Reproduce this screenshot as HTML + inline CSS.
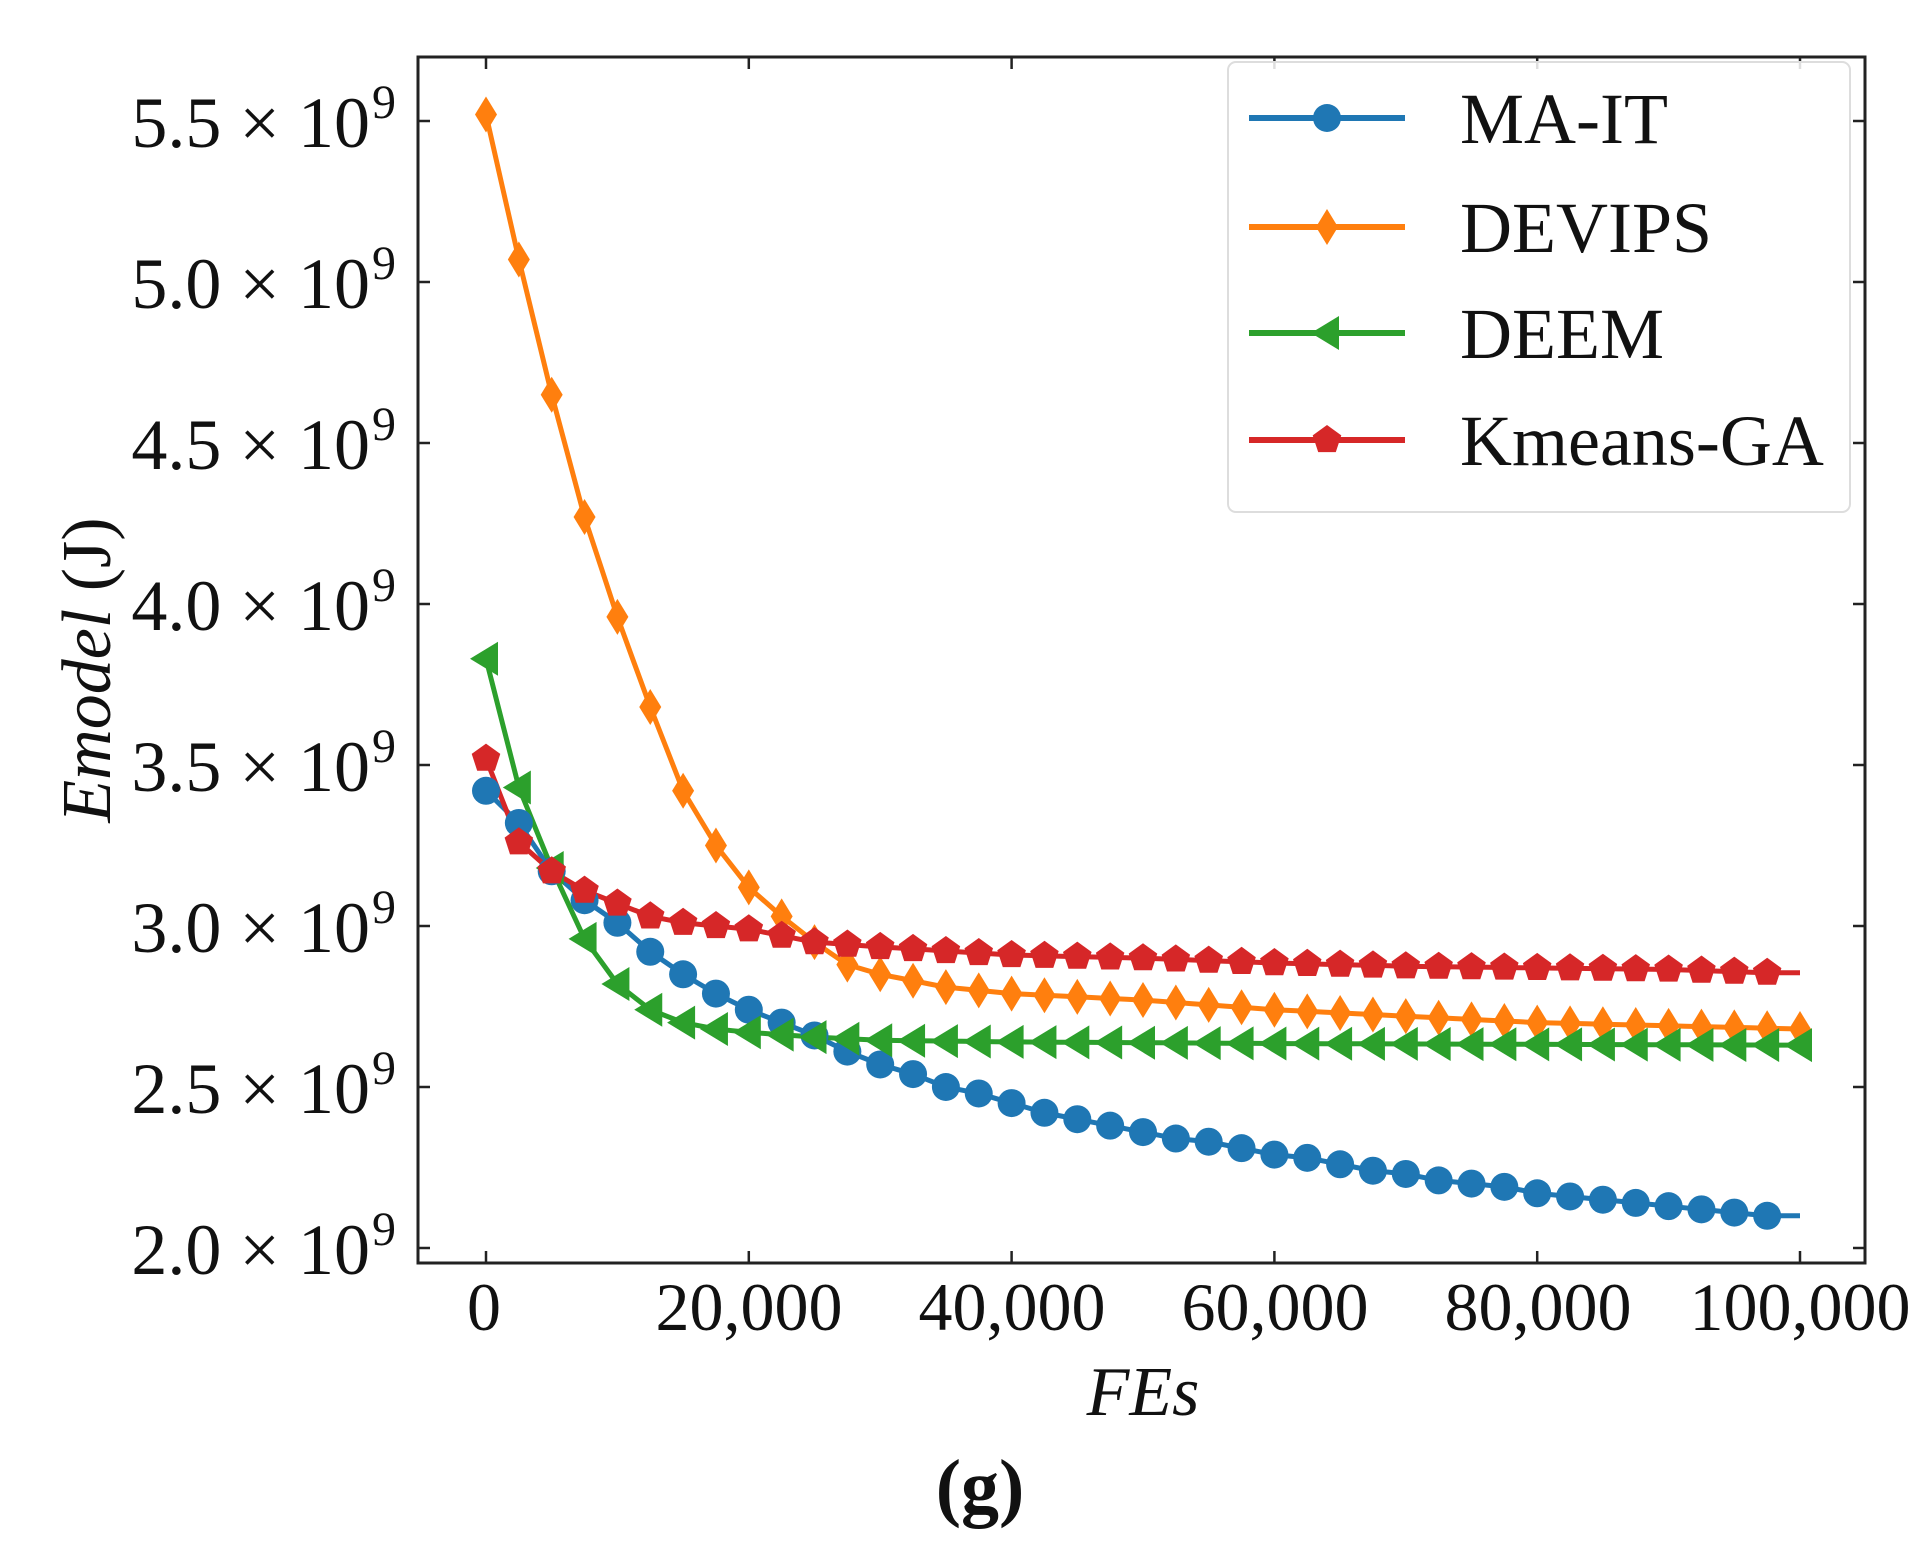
<!DOCTYPE html>
<html><head><meta charset="utf-8"><style>
html,body{margin:0;padding:0;background:#fff;}
svg{display:block;}
text{font-family:"Liberation Serif",serif;fill:#111;}
</style></head><body>
<svg id="s" width="1928" height="1557" viewBox="0 0 1928 1557" xmlns="http://www.w3.org/2000/svg">
<rect x="0" y="0" width="1928" height="1557" fill="#fff"/>
<g id="plot"></g>
<rect x="418" y="57" width="1447" height="1206" fill="none" stroke="#222" stroke-width="3"/>
<g id="ticks" stroke="#222" stroke-width="2.5"></g>
<g id="ylabels" font-size="72"></g>
<g font-size="68" text-anchor="middle">
<text x="484" y="1330">0</text>
<text x="749" y="1330">20,000</text>
<text x="1012" y="1330">40,000</text>
<text x="1275" y="1330">60,000</text>
<text x="1538" y="1330">80,000</text>
<text x="1800" y="1330">100,000</text>
</g>
<text x="1143" y="1415" font-size="70" font-style="italic" text-anchor="middle">FEs</text>
<text x="980" y="1512" font-size="76" font-weight="bold" text-anchor="middle">(g)</text>
<text transform="translate(110,670) rotate(-90)" font-size="70" text-anchor="middle"><tspan font-style="italic">Emodel</tspan> (J)</text>
<rect x="1228" y="62" width="622" height="450" rx="8" fill="#fff" fill-opacity="0.85" stroke="#ddd" stroke-width="2"/>
<g id="legend"></g>
<g font-size="72">
<text x="1460" y="143">MA-IT</text>
<text x="1460" y="252">DEVIPS</text>
<text x="1460" y="358">DEEM</text>
<text x="1460" y="465">Kmeans-GA</text>
</g>
</svg>
<script>
var NS="http://www.w3.org/2000/svg";
function X(f){return 486+f*0.01314;}
function Y(v){return 926-(v-3.0)*322;}
function interp(keys,f){for(var i=0;i<keys.length-1;i++){if(f>=keys[i][0]&&f<=keys[i+1][0]){var t=(f-keys[i][0])/(keys[i+1][0]-keys[i][0]);return keys[i][1]+t*(keys[i+1][1]-keys[i][1]);}}return keys[keys.length-1][1];}
function K(a){return a.map(function(p){return [p[0]*1000,p[1]];});}
var S=[
{c:"#1f77b4",m:"o",last:97500,k:K([[0,3.42],[2.5,3.32],[5,3.17],[7.5,3.08],[10,3.01],[12.5,2.92],[15,2.85],[17.5,2.79],[20,2.74],[22.5,2.70],[25,2.66],[27.5,2.61],[30,2.57],[32.5,2.54],[35,2.50],[37.5,2.48],[40,2.45],[42.5,2.42],[45,2.40],[47.5,2.38],[50,2.36],[52.5,2.34],[55,2.33],[57.5,2.31],[60,2.29],[62.5,2.28],[65,2.26],[67.5,2.24],[70,2.23],[72.5,2.21],[75,2.20],[77.5,2.19],[80,2.17],[82.5,2.16],[85,2.15],[87.5,2.14],[90,2.13],[92.5,2.12],[95,2.11],[97.5,2.10],[100,2.10]])},
{c:"#ff7f0e",m:"d",last:100000,k:K([[0,5.52],[2.5,5.07],[5,4.65],[7.5,4.27],[10,3.96],[12.5,3.68],[15,3.42],[17.5,3.25],[20,3.12],[22.5,3.03],[25,2.95],[27.5,2.88],[30,2.85],[32.5,2.83],[35,2.81],[40,2.79],[50,2.77],[60,2.74],[70,2.72],[80,2.70],[90,2.69],[100,2.68]])},
{c:"#2ca02c",m:"<",last:100000,k:K([[0,3.83],[2.5,3.43],[5,3.18],[7.5,2.96],[10,2.82],[12.5,2.74],[15,2.70],[17.5,2.68],[20,2.67],[25,2.655],[30,2.645],[40,2.64],[60,2.635],[100,2.63]])},
{c:"#d62728",m:"p",last:97500,k:K([[0,3.52],[2.5,3.26],[5,3.17],[7.5,3.11],[10,3.07],[12.5,3.03],[15,3.01],[17.5,3.0],[20,2.99],[22.5,2.97],[25,2.95],[30,2.935],[40,2.91],[50,2.90],[60,2.885],[70,2.875],[80,2.87],[90,2.865],[97.5,2.855],[100,2.855]])}
];
function el(n,a,p){var e=document.createElementNS(NS,n);for(var k in a)e.setAttribute(k,a[k]);p.appendChild(e);return e;}
function marker(m,x,y,c,p){
 if(m=="o")el("circle",{cx:x,cy:y,r:14,fill:c},p);
 else if(m=="d")el("polygon",{points:(x)+","+(y-18)+" "+(x+11)+","+y+" "+x+","+(y+18)+" "+(x-11)+","+y,fill:c},p);
 else if(m=="<")el("polygon",{points:(x-16)+","+y+" "+(x+12)+","+(y-17)+" "+(x+12)+","+(y+17),fill:c},p);
 else {var pts=[];for(var i=0;i<5;i++){var a=-Math.PI/2+i*2*Math.PI/5;pts.push((x+15*Math.cos(a)).toFixed(1)+","+(y+15*Math.sin(a)).toFixed(1));}el("polygon",{points:pts.join(" "),fill:c},p);}
}
var g=document.getElementById("plot");
S.forEach(function(s){
 var d="";for(var f=0;f<=100000;f+=1250){d+=(f?"L":"M")+X(f).toFixed(1)+","+Y(interp(s.k,f)).toFixed(1);}
 el("path",{d:d,fill:"none",stroke:s.c,"stroke-width":5},g);
});
S.forEach(function(s){for(var f=0;f<=s.last;f+=2500)marker(s.m,X(f),Y(interp(s.k,f)),s.c,g);});
var t=document.getElementById("ticks");
[0,20000,40000,60000,80000,100000].forEach(function(f){var x=X(f);el("line",{x1:x,y1:1263,x2:x,y2:1251},t);el("line",{x1:x,y1:57,x2:x,y2:69},t);});
var yl=document.getElementById("ylabels");
[2.0,2.5,3.0,3.5,4.0,4.5,5.0,5.5].forEach(function(v){var y=Y(v);el("line",{x1:418,y1:y,x2:430,y2:y},t);el("line",{x1:1865,y1:y,x2:1853,y2:y},t);
 var tx=el("text",{x:370,y:y+26,"text-anchor":"end"},yl);tx.textContent=v.toFixed(1)+" \u00d7 10";
 var sp=el("text",{x:372,y:y-3,"font-size":48},yl);sp.textContent="9";});
var lg=document.getElementById("legend");
[[118,0],[227,1],[333,2],[440,3]].forEach(function(r){var s=S[r[1]];el("line",{x1:1249,y1:r[0],x2:1405,y2:r[0],stroke:s.c,"stroke-width":6},lg);marker(s.m,1327,r[0],s.c,lg);});
</script>
</body></html>
